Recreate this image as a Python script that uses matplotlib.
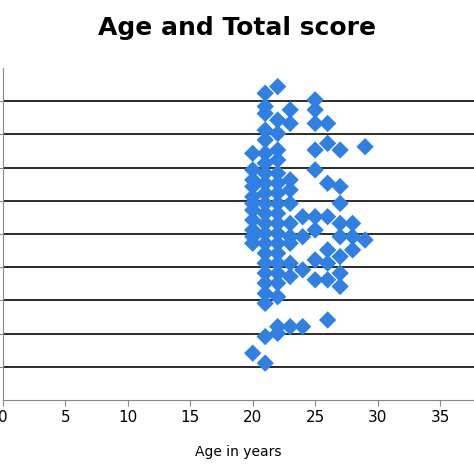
import matplotlib
matplotlib.use("Agg")
import matplotlib.pyplot as plt

# ages and total scores
ages_20 = [74.3, 69.3, 66.3, 64.3, 61.2, 59.2, 57.2, 54.2, 51.2, 49.2, 47.2, 14.1]
ages_21 = [92.4, 88.4, 86.3, 81.3, 78.3, 74.3, 71.3, 68.3, 65.3, 62.3, 59.2, 56.2,
           53.2, 50.2, 47.2, 44.2, 41.2, 38.2, 35.2, 32.1, 29.1, 19.1, 11.1]
ages_22 = [94.4, 84.3, 80.3, 75.3, 72.3, 68.3, 65.3, 62.3, 59.2, 56.2, 53.2, 50.2,
           47.2, 44.2, 41.2, 38.2, 35.2, 31.1, 22.1, 20.1]
ages_23 = [87.4, 83.3, 66.3, 63.3, 59.2, 53.2, 49.2, 47.2, 41.2, 37.2, 22.1]
ages_24 = [55.2, 49.2, 39.2, 22.1]
ages_25 = [90.4, 87.4, 83.3, 75.3, 69.3, 55.2, 51.2, 42.2, 36.2]
ages_26 = [83.3, 77.3, 65.3, 55.2, 45.2, 41.2, 36.2, 24.1]
ages_27 = [75.3, 64.3, 59.2, 53.2, 49.2, 43.2, 38.2, 34.2]
ages_28 = [53.2, 49.2, 45.2]
ages_29 = [76.3, 48.2]

groups = {20: ages_20, 21: ages_21, 22: ages_22, 23: ages_23, 24: ages_24,
          25: ages_25, 26: ages_26, 27: ages_27, 28: ages_28, 29: ages_29}
x_ticks = [0, 5, 10, 15, 20, 25, 30, 35]

xs, ys = [], []
for age, scores in groups.items():
    xs += [age] * len(scores)
    ys += scores

fig = plt.figure(figsize=(4.74, 4.74), dpi=100)
ax = fig.add_axes([3 / 474, 74 / 474, 471 / 474, 332 / 474])

ax.scatter(xs, ys, marker="D", s=78, color="#2F80E2", edgecolors="none", zorder=3)

ax.set_xlim(0, 35 * 471 / 437)
ax.set_ylim(0, 100)
ax.set_xticks(x_ticks)
ax.set_xticklabels([str(t) for t in x_ticks], fontsize=11)
ax.set_yticks(range(10, 100, 10))
ax.tick_params(axis="y", labelleft=False, length=4, color="#888888")
ax.tick_params(axis="x", length=4, color="#888888")
ax.grid(axis="y", color="#1a1a1a", lw=1.3)
ax.set_axisbelow(True)
for s in ["top", "right"]:
    ax.spines[s].set_visible(False)
ax.spines["left"].set_color("#888888")
ax.spines["bottom"].set_color("#888888")

ax.set_xlabel("Age in years", fontsize=10, labelpad=14)
fig.text(0.5, 0.94, "Age and Total score", ha="center", va="center",
         fontsize=18, fontweight="bold")

fig.savefig("out.png", dpi=100)
